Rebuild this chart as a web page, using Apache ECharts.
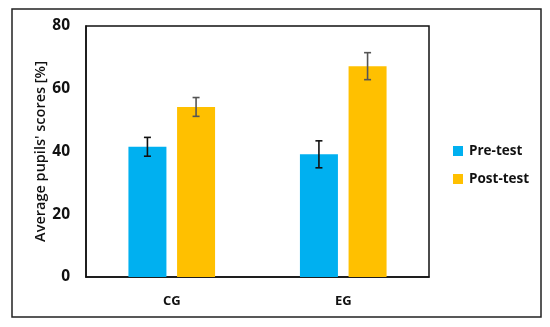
<!DOCTYPE html>
<html><head><meta charset="utf-8">
<script src="https://cdn.jsdelivr.net/npm/echarts@6/dist/echarts.min.js"></script>
<style>html,body{margin:0;padding:0;background:#fff}#c{width:550px;height:327px}</style>
</head><body><div id="c"></div>
<script>
const categories = ['CG', 'EG'];
const preTest = [41.5, 39.1];
const preErr = [3.0, 4.3];
const postTest = [54.2, 67.2];
const postErr = [3.0, 4.3];
const yTicks = [0, 20, 40, 60, 80];

const FONT = '"Open Sans", "Noto Sans", sans-serif';
const BAR_W = 38;
const GAP = 0.28;
const OFF = (BAR_W + GAP * BAR_W) / 2;

function errSeries(name, vals, errs, sign, color) {
  return {
    type: 'custom', name: name + ' err', silent: true, z: 10,
    data: vals.map((v, i) => [i, v, errs[i]]),
    renderItem: function (params, api) {
      const i = api.value(0), v = api.value(1), e = api.value(2);
      const hi = api.coord([i, v + e]);
      const lo = api.coord([i, v - e]);
      const x = hi[0] + sign * OFF;
      const cap = 3.5;
      const st = { stroke: color, lineWidth: 1.6 };
      return { type: 'group', children: [
        { type: 'line', shape: { x1: x, y1: hi[1], x2: x, y2: lo[1] }, style: st },
        { type: 'line', shape: { x1: x - cap, y1: hi[1], x2: x + cap, y2: hi[1] }, style: st },
        { type: 'line', shape: { x1: x - cap, y1: lo[1], x2: x + cap, y2: lo[1] }, style: st }
      ]};
    }
  };
}

const chart = echarts.init(document.getElementById('c'), null, { renderer: 'canvas' });
chart.setOption({
  animation: false,
  textStyle: { fontFamily: FONT },
  graphic: [{
    type: 'rect', shape: { x: 12, y: 9, width: 529, height: 308 },
    style: { fill: 'none', stroke: '#222', lineWidth: 1.5 }, silent: true
  }],
  grid: { left: 86, top: 26, width: 343, height: 251, show: true, borderColor: '#111', borderWidth: 1.5, backgroundColor: 'transparent' },
  legend: {
    orient: 'vertical', left: 448, top: 139, itemWidth: 10, itemHeight: 10, itemGap: 14,
    icon: 'rect',
    data: ['Pre-test', 'Post-test'],
    textStyle: { fontFamily: FONT, fontWeight: 'bold', fontSize: 13.5, color: '#111', padding: [0, 0, 0, 1] }
  },
  xAxis: {
    type: 'category', data: categories,
    axisLine: { lineStyle: { color: '#111', width: 1.5 } },
    axisTick: { show: false },
    axisLabel: { fontFamily: FONT, fontWeight: 'bold', fontSize: 13, color: '#111', margin: 18 }
  },
  yAxis: {
    type: 'value', min: yTicks[0], max: yTicks[yTicks.length - 1], interval: 20,
    name: "Average pupils' scores [%]", nameLocation: 'middle', nameGap: 38, nameMoveOverlap: false,
    nameTextStyle: { fontFamily: FONT, fontSize: 14.5, fontWeight: 600, color: '#111' },
    axisLine: { show: true, lineStyle: { color: '#111', width: 1.5 } },
    axisTick: { show: false },
    splitLine: { show: false },
    axisLabel: { fontFamily: FONT, fontWeight: 'bold', fontSize: 15.5, color: '#111', margin: 16 }
  },
  series: [
    { name: 'Pre-test', type: 'bar', data: preTest, barWidth: BAR_W, barGap: (GAP * 100) + '%', itemStyle: { color: '#00B0F0' } },
    { name: 'Post-test', type: 'bar', data: postTest, barWidth: BAR_W, barGap: (GAP * 100) + '%', itemStyle: { color: '#FFC000' } },
    errSeries('Pre-test', preTest, preErr, -1, '#111'),
    errSeries('Post-test', postTest, postErr, 1, '#555')
  ]
});
</script></body></html>
